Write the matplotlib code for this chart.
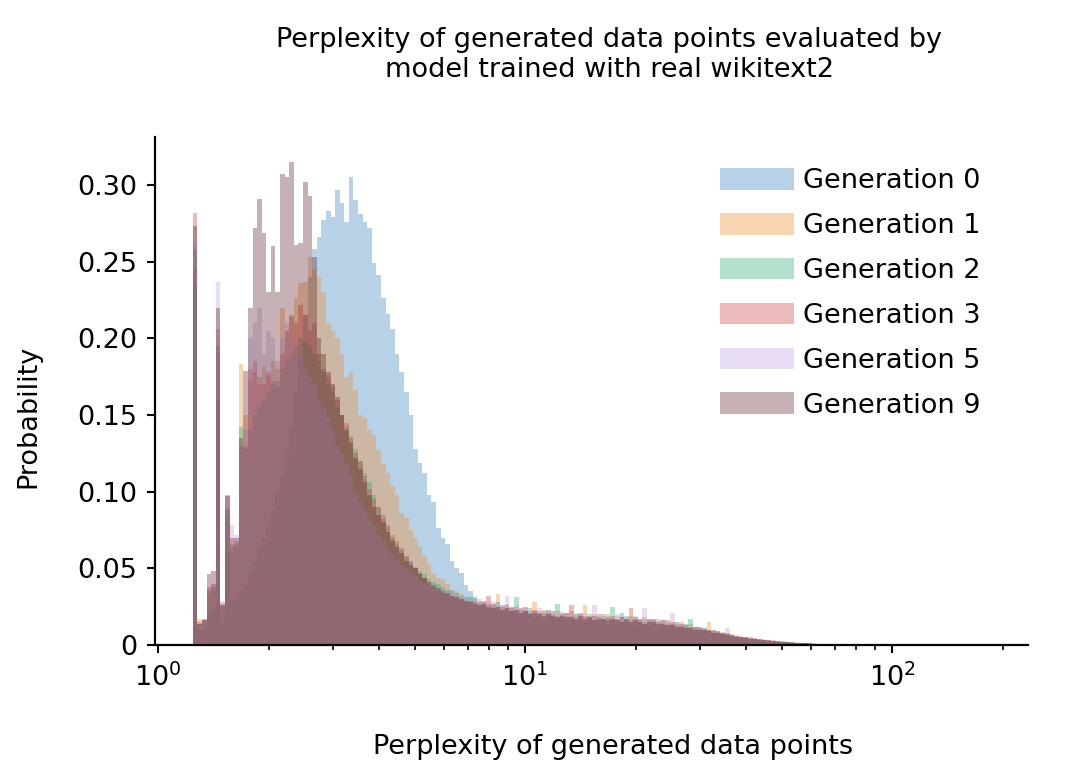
import numpy as np
import matplotlib
matplotlib.use("Agg")
import matplotlib.pyplot as plt

# histogram bins: log10 spaced, start and width in decades
bin_start = 0.095
bin_step = 0.0125
n_bins = 147

labels = ["Generation 0", "Generation 1", "Generation 2",
          "Generation 3", "Generation 5", "Generation 9"]

# bin heights, in thousandths
gen0 = [235, 10, 10, 20, 22, 160, 15, 60, 30, 30,
        35, 40, 47, 55, 62, 70, 77, 88, 99, 110,
        125, 142, 165, 190, 215, 240, 258, 266, 277, 283,
        279, 297, 288, 276, 305, 290, 281, 276, 272, 249,
        241, 226, 216, 206, 190, 178, 165, 150, 128, 119,
        112, 98, 93, 76, 70, 66, 55, 50, 47, 39,
        35, 31, 28, 26, 24, 25, 22, 23, 21, 22,
        20, 21, 25, 20, 18, 19, 17, 19, 18, 17,
        18, 16, 17, 16, 17, 15, 16, 16, 15, 16,
        14, 16, 15, 21, 15, 14, 13, 15, 14, 13,
        14, 12, 13, 12, 13, 11, 12, 11, 10, 11,
        10, 9, 9.5, 8.5, 8, 7.5, 7, 6, 5.5, 5,
        4.8, 4.2, 4, 3.6, 3.2, 3, 2.6, 2.4, 2.2, 1.9,
        1.7, 1.5, 1.3, 1.1, 1.0, 0.9, 0.75, 0.65, 0.5, 0.45,
        0.4, 0.3, 0.25, 0.2, 0.15, 0.1, 0.05]

gen1 = [245, 17, 15, 32, 36, 190, 25, 85, 60, 64,
        183, 150, 172, 178, 170, 182, 176, 185, 180, 220,
        205, 214, 226, 236, 237, 253, 245, 240, 230, 210,
        205, 200, 190, 175, 178, 166, 150, 148, 140, 137,
        127, 118, 112, 104, 98, 86, 83, 75, 70, 64,
        58, 53, 46, 44, 43, 40, 36, 35, 33, 31,
        30, 29, 30, 28, 27, 28, 33, 25, 27, 24,
        25, 23, 24, 22, 28, 21, 23, 22, 20, 22,
        21, 19, 22, 20, 18, 26, 19, 20, 18, 19,
        20, 17, 19, 18, 17, 19, 18, 16, 18, 17,
        16, 17, 15, 16, 15, 14, 15, 13, 14, 12,
        12, 11, 15, 10, 9, 8.5, 8, 7, 6.5, 6,
        5.5, 5, 4.6, 4, 3.6, 3.3, 3, 2.7, 2.4, 2.1,
        1.9, 1.7, 1.5, 1.3, 1.1, 1.0, 0.85, 0.7, 0.6, 0.5,
        0.4, 0.35, 0.3, 0.22, 0.15, 0.1, 0.05]

gen2 = [258, 14, 16, 35, 38, 195, 26, 89, 64, 66,
        142, 128, 140, 150, 155, 160, 165, 170, 172, 180,
        185, 190, 195, 200, 198, 195, 190, 185, 178, 170,
        165, 155, 150, 142, 136, 128, 120, 112, 106, 98,
        90, 82, 77, 70, 66, 62, 58, 54, 51, 48,
        46, 43, 41, 40, 38, 36, 35, 34, 32, 31,
        31, 30, 28, 29, 27, 26, 28, 25, 26, 24,
        31, 23, 22, 24, 22, 21, 22, 23, 20, 27,
        20, 21, 19, 20, 21, 18, 20, 19, 18, 20,
        18, 25, 17, 18, 19, 16, 18, 17, 17, 16,
        17, 15, 16, 15, 14, 15, 13, 14, 17, 12,
        11.5, 11, 10, 9.5, 9, 8, 7.5, 6.5, 6, 5.5,
        5, 4.6, 4.2, 3.8, 3.4, 3.1, 2.8, 2.5, 2.2, 2,
        1.8, 1.6, 1.4, 1.2, 1.0, 0.9, 0.8, 0.65, 0.55, 0.45,
        0.4, 0.3, 0.25, 0.2, 0.15, 0.1, 0.05]

gen3 = [282, 15, 17, 38, 40, 206, 28, 98, 66, 68,
        129, 130, 180, 185, 175, 170, 178, 172, 168, 190,
        205, 215, 210, 222, 215, 205, 210, 190, 180, 175,
        168, 160, 150, 145, 135, 125, 120, 110, 102, 95,
        90, 85, 78, 72, 68, 63, 58, 55, 50, 47,
        44, 40, 38, 36, 34, 33, 32, 31, 30, 29,
        29, 28, 27, 28, 32, 27, 25, 26, 24, 25,
        23, 24, 22, 21, 23, 22, 20, 21, 22, 19,
        20, 21, 26, 18, 20, 19, 18, 19, 20, 17,
        18, 19, 17, 18, 16, 24, 17, 17, 15, 17,
        16, 15, 16, 14, 15, 13, 14, 13, 12, 12,
        11, 10.5, 10, 9, 8.5, 8, 7, 6.5, 6, 5.5,
        5, 4.5, 4.2, 3.7, 3.4, 3, 2.7, 2.5, 2.2, 1.9,
        1.7, 1.5, 1.3, 1.2, 1.0, 0.85, 0.75, 0.6, 0.5, 0.45,
        0.35, 0.3, 0.25, 0.2, 0.12, 0.08, 0.04]

gen5 = [262, 13, 15, 36, 39, 237, 27, 90, 78, 72,
        132, 140, 200, 210, 220, 190, 205, 200, 185, 200,
        210, 200, 195, 190, 180, 175, 170, 160, 155, 148,
        140, 130, 125, 118, 110, 100, 94, 88, 82, 78,
        72, 68, 62, 58, 55, 52, 50, 47, 45, 42,
        40, 39, 37, 38, 35, 34, 36, 33, 32, 31,
        30, 31, 29, 28, 29, 27, 28, 26, 32, 25,
        26, 24, 25, 23, 22, 24, 21, 23, 22, 21,
        22, 20, 21, 19, 20, 21, 18, 26, 19, 18,
        19, 18, 20, 17, 18, 17, 19, 16, 24, 16,
        17, 16, 15, 16, 21, 15, 14, 13, 13, 12,
        11.5, 11, 10, 9.5, 9, 8, 11, 7, 6, 5.5,
        5.2, 4.8, 4.3, 3.9, 3.5, 3.2, 2.9, 2.6, 2.3, 2,
        1.8, 1.6, 1.4, 1.2, 1.1, 0.95, 0.8, 0.7, 0.6, 0.5,
        0.4, 0.35, 0.28, 0.22, 0.15, 0.1, 0.05]

gen9 = [273, 14, 16, 46, 48, 220, 26, 97, 70, 70,
        135, 179, 220, 272, 291, 269, 230, 260, 230, 307,
        305, 315, 261, 262, 302, 293, 253, 200, 190, 178,
        170, 162, 150, 140, 132, 122, 115, 106, 98, 90,
        85, 80, 74, 68, 64, 60, 55, 52, 50, 46,
        44, 41, 39, 37, 35, 34, 32, 31, 30, 29,
        28, 27, 26, 27, 25, 24, 25, 23, 24, 22,
        23, 21, 22, 20, 21, 20, 19, 20, 19, 18,
        19, 18, 18, 17, 19, 17, 18, 16, 17, 17,
        16, 17, 16, 15, 17, 15, 16, 15, 14, 15,
        15, 14, 14, 13, 13, 12, 12, 11, 11, 10,
        10, 9.5, 9, 8, 7.5, 7, 6.5, 6, 5.5, 5,
        4.6, 4.2, 3.8, 3.4, 3.1, 2.8, 2.5, 2.2, 2, 1.8,
        1.6, 1.4, 1.2, 1.1, 0.95, 0.8, 0.7, 0.6, 0.5, 0.4,
        0.35, 0.3, 0.22, 0.18, 0.12, 0.08, 0.04]

series = [gen0, gen1, gen2, gen3, gen5, gen9]
colors = ["#317cb8", "#f18723", "#20a970", "#cc3a40", "#bd9be2", "#5c2329"]

yticks = [0, 0.05, 0.10, 0.15, 0.20, 0.25, 0.30]
ytick_labels = ["0", "0.05", "0.10", "0.15", "0.20", "0.25", "0.30"]

plt.rcParams['font.family'] = 'DejaVu Sans'
fs = 19.5

fig = plt.figure(figsize=(10.86, 7.82), dpi=100)
ax = fig.add_axes([0.1427, 0.1752, 0.8039, 0.6496])

edges = 10 ** (bin_start + bin_step * np.arange(n_bins + 1))
for vals, col, lab in zip(series, colors, labels):
    h = np.array(vals) / 1000.0
    ax.bar(edges[:-1], h, width=np.diff(edges), align='edge',
           color=col, alpha=0.35, linewidth=0, label=lab)

ax.set_xscale('log')
ax.set_xlim(0.981, 234.7)
ax.set_ylim(0, 0.3313)
ax.set_yticks(yticks)
ax.set_yticklabels(ytick_labels)

for s in ['top', 'right']:
    ax.spines[s].set_visible(False)
for s in ['left', 'bottom']:
    ax.spines[s].set_linewidth(1.6)

ax.tick_params(axis='both', which='major', labelsize=fs, length=6, width=1.5, pad=7)
ax.tick_params(axis='x', which='minor', length=3.5, width=1.2)

ax.set_xlabel("Perplexity of generated data points", fontsize=fs)
ax.xaxis.set_label_coords(0.525, -0.175)
ax.set_ylabel("Probability", fontsize=fs)
ax.yaxis.set_label_coords(-0.13, 0.45)

fig.suptitle("Perplexity of generated data points evaluated by\nmodel trained with real wikitext2",
             x=0.561, y=0.965, fontsize=fs, va='top')

ax.legend(loc='upper left', bbox_to_anchor=(0.663, 0.785), bbox_transform=fig.transFigure,
          frameon=False, fontsize=fs, handlelength=2.75, handleheight=0.85,
          handletextpad=0.3, labelspacing=0.69, borderpad=0, borderaxespad=0)

fig.savefig("out.png", dpi=100)
